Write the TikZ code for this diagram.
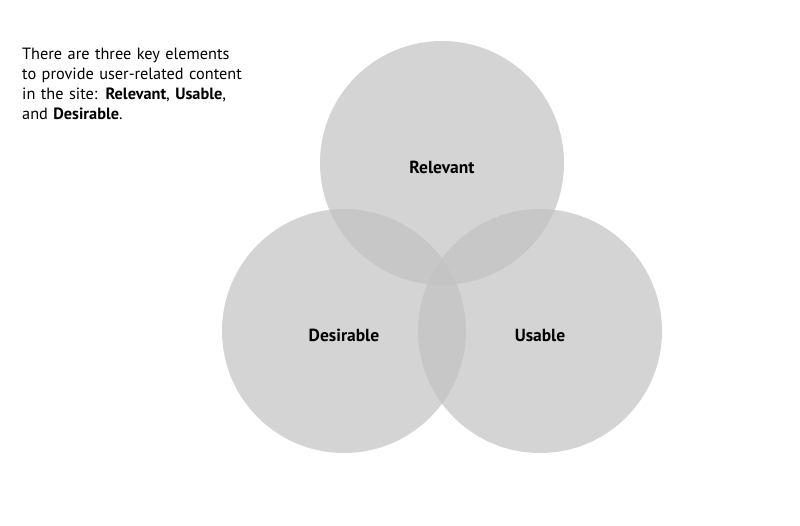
\documentclass[tikz,border=0pt]{standalone}
\usepackage{fontspec}
\setmainfont{PT Sans}
\usepackage{tikz}
\usetikzlibrary{positioning}

\begin{document}
\begin{tikzpicture}[
    x=1pt, y=-1pt,
    circ/.style={circle, minimum size=244pt, inner sep=0pt, fill=black!24, fill opacity=0.7, text opacity=1, text height=22pt, font=\fontsize{17.5}{20}\selectfont\bfseries},
    note/.style={anchor=north west, align=left, text width=260pt, inner sep=0pt, font=\fontsize{16.3}{20}\selectfont}
]
\useasboundingbox (0,0) rectangle (800,525);

% Intro text in the upper left corner.
\node[note] (intro) at (22,48) {There are three key elements\\to provide user-related content\\in the site: \textbf{Relevant}, \textbf{Usable},\\and \textbf{Desirable}.};

% Three overlapping circles.
\node[circ] (relevant) at (442,163) {Relevant};
\node[circ] (desirable) at (344,331) {Desirable};
\node[circ] (usable) at (540,331) {Usable};

\end{tikzpicture}
\end{document}
